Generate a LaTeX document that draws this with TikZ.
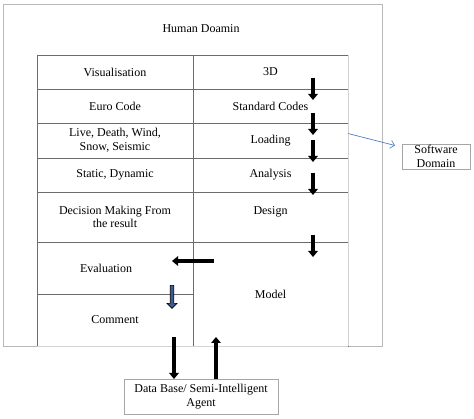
\documentclass[tikz,border=0pt]{standalone}
\usepackage{fontspec}
\setmainfont{Liberation Serif}
\usetikzlibrary{arrows.meta, positioning, shapes.arrows, calc}

\definecolor{linkblue}{RGB}{79,129,189}
\definecolor{evalblue}{RGB}{60,90,150}

\begin{document}
\begin{tikzpicture}[
		x=1pt, y=-1pt,
		every node/.style={font=\fontsize{12}{13.5}\selectfont, align=center},
		cell/.style={
			rectangle,
			draw=gray!85!black,
			line width=0.8pt,
			inner sep=0pt,
			outer sep=0pt,
			anchor=north west
		},
		leftcell/.style={cell, minimum width=156pt},
		rightcell/.style={cell, minimum width=155pt},
		areabox/.style={
			rectangle,
			draw=gray!70,
			line width=0.8pt,
			inner sep=0pt,
			outer sep=0pt
		},
		faint/.style={draw=gray!35, line width=0.9pt},
		blk/.style={
			line width=3.4pt,
			-{Triangle[width=9.5pt,length=6pt]}
		},
		link/.style={
			linkblue,
			line width=0.7pt,
			-{Straight Barb[length=4pt,width=8pt]}
		}
		]
		
		\useasboundingbox (0,0) rectangle (474,419);
		
		% Outer domain box
		\node[areabox, draw=gray!55, anchor=north west, minimum width=379pt, minimum height=342pt] (human) at (3,4) {};
		\node (title) at (201,29) {Human Doamin};
		
		% Left column
		\node[leftcell, minimum height=34pt] (vis) at (37,55) {Visualisation};
		\node[leftcell, minimum height=34pt] (euro) at (37,89) {Euro Code};
		\node[leftcell, minimum height=35pt] (live) at (37,123) {Live, Death, Wind,\\Snow, Seismic};
		\node[leftcell, minimum height=34pt] (stat) at (37,158) {Static, Dynamic};
		\node[leftcell, minimum height=50pt] (dec) at (37,192) {Decision Making From\\the result};
		\node[leftcell, minimum height=52pt] (eval) at (37,242) {Evaluation\hspace{18pt}};
		\node[leftcell, minimum height=52pt] (comm) at (37,294) {Comment};
		
		% Right column
		\node[rightcell, minimum height=34pt] (c3d) at (193,55) {3D};
		\node[rightcell, minimum height=34pt] (std) at (193,89) {Standard Codes};
		\node[rightcell, minimum height=35pt] (load) at (193,123) {Loading};
		\node[rightcell, minimum height=34pt] (anal) at (193,158) {Analysis};
		\node[rightcell, minimum height=50pt] (desg) at (193,192) {Design\\\mbox{}};
		\node[rightcell, minimum height=104pt] (model) at (193,242) {Model};
		
		% lighter right and bottom edges of the table
		\draw[faint] (c3d.north east) -- (model.south east);
		\draw[faint] (comm.south west) -- (model.south east);
		
		% Outside boxes
		\node[areabox, minimum width=68pt, minimum height=25pt] (sw) at (436,156.5) {Software\\Domain};
		\node[areabox, anchor=north west, minimum width=154pt, minimum height=35pt] (db) at (124,379) {Data Base/ Semi-Intelligent\\Agent};
		
		% Arrows (main flow)
		\coordinate (flow) at (313,0);
		\foreach \cell/\dy in {std/0, load/-1, anal/7, desg/8, model/-4}
		\draw[blk] ([yshift=\dy pt+11pt]flow |- \cell.north) -- ([yshift=\dy pt-11pt]flow |- \cell.north);
		
		\draw[blk] ($(model.north west)+(21,19)$) -- ($(model.north west)+(-21,19)$);
		
		\node[single arrow, draw=black, fill=evalblue, line width=0.6pt,
			minimum width=10pt, minimum height=23pt, single arrow head extend=2.5pt,
			inner sep=1pt, shape border rotate=270] (evarrow) at (172,296) {};
		
		% Data base exchange
		\draw[blk] ($(db.north west)+(50,-42)$) -- ($(db.north west)+(50,0)$);
		\draw[blk] ($(db.north west)+(92,0)$) -- ($(db.north west)+(92,-42)$);
		
		% Link to software domain
		\draw[link] ([yshift=7pt]load.east) -- ([xshift=-7pt,yshift=11pt]sw.west);
		
	\end{tikzpicture}
\end{document}
